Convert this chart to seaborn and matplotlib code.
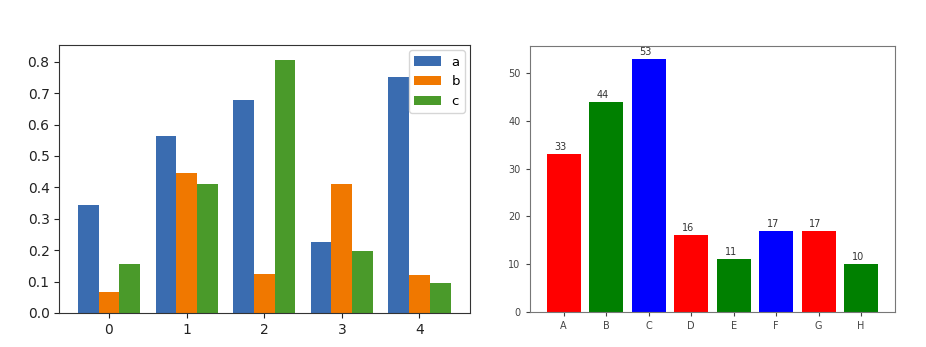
import matplotlib
matplotlib.use("Agg")
import matplotlib.pyplot as plt
import seaborn as sns
import pandas as pd

# Left panel: three series over five groups
groups = [0, 1, 2, 3, 4]
series_a = [0.345, 0.562, 0.679, 0.227, 0.753]
series_b = [0.067, 0.445, 0.125, 0.410, 0.121]
series_c = [0.157, 0.410, 0.807, 0.196, 0.094]
series_names = ["a", "b", "c"]

# Right panel: counts per letter
letters = ["A", "B", "C", "D", "E", "F", "G", "H"]
counts = [33, 44, 53, 16, 11, 17, 17, 10]
bar_colors = ["red", "green", "blue", "red", "green", "blue", "red", "green"]

plt.rcParams["font.family"] = ["DejaVu Sans"]

fig = plt.figure(figsize=(9.26, 3.47), dpi=100)
ax1 = fig.add_axes([0.064, 0.098, 0.444, 0.772])
ax2 = fig.add_axes([0.572, 0.102, 0.3945, 0.765])

long = pd.DataFrame({
    "group": groups * 3,
    "value": series_a + series_b + series_c,
    "series": [s for s in series_names for _ in groups],
})
pal = {"a": "#3a6cb0", "b": "#f07800", "c": "#4a9a2a"}
sns.barplot(data=long, x="group", y="value", hue="series", palette=pal,
            width=0.8, gap=0, saturation=1, ax=ax1, errorbar=None)
ax1.set_xlim(-0.64, 4.656)
ax1.set_ylim(0, 0.853)
ax1.set_yticks([0.0, 0.1, 0.2, 0.3, 0.4, 0.5, 0.6, 0.7, 0.8])
ax1.set_yticklabels([f"{v:.1f}" for v in ax1.get_yticks()])
ax1.set_xlabel("")
ax1.set_ylabel("")
ax1.tick_params(labelsize=10, colors="#222222")
for sp in ax1.spines.values():
    sp.set_color("#333333")
leg = ax1.legend(title=None, loc="upper right", fontsize=9.5,
                 handlelength=2.0, borderaxespad=0.4)
leg.get_frame().set_edgecolor("#cccccc")

df2 = pd.DataFrame({"letter": letters, "count": counts})
sns.barplot(data=df2, x="letter", y="count", hue="letter",
            palette=dict(zip(letters, bar_colors)), saturation=1,
            width=0.8, legend=False, ax=ax2, errorbar=None)
ax2.set_xlim(-0.8, 7.8)
ax2.set_ylim(0, 55.65)
ax2.set_xlabel("")
ax2.set_ylabel("")
ax2.tick_params(labelsize=7, colors="#444444", length=3)
for sp in ax2.spines.values():
    sp.set_color("#777777")
for i, v in enumerate(counts):
    ax2.text(i - 0.07, v + 0.4, str(v), ha="center", va="bottom",
             fontsize=7, color="#333333", clip_on=True)

fig.savefig("out.png", dpi=100)
